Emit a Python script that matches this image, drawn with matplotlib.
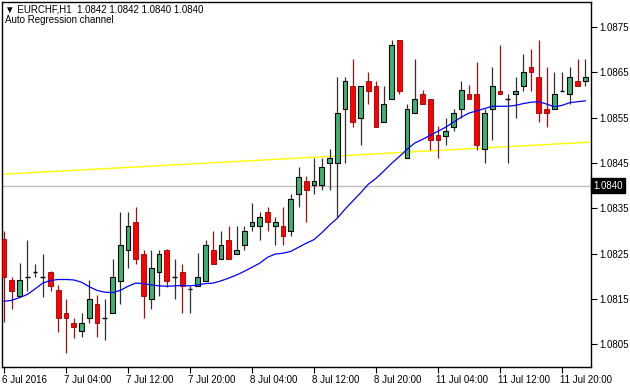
import matplotlib
matplotlib.use('Agg')
import matplotlib.pyplot as plt
import matplotlib.transforms as mtransforms
import numpy as np

# EURCHF H1 candles, 6 Jul 20:00 .. 11 Jul 23:00
opens = [1.08282, 1.08191, 1.08157, 1.08199, 1.08210, 1.08199, 1.08210, 1.08169, 1.08120, 1.08098,
         1.08079, 1.08109, 1.08138, 1.08109, 1.08119, 1.08190, 1.08258, 1.08319, 1.08250, 1.08149,
         1.08210, 1.08258, 1.08199, 1.08210, 1.08171, 1.08178, 1.08190, 1.08259, 1.08239, 1.08281,
         1.08250, 1.08270, 1.08310, 1.08310, 1.08341, 1.08310, 1.08310, 1.08299, 1.08381, 1.08410,
         1.08401, 1.08401, 1.08449, 1.08449, 1.08570, 1.08620, 1.08549, 1.08631, 1.08620, 1.08541,
         1.08590, 1.08721, 1.08460, 1.08560, 1.08601, 1.08590, 1.08511, 1.08510, 1.08530, 1.08570,
         1.08601, 1.08601, 1.08480, 1.08570, 1.08609, 1.08590, 1.08601, 1.08620, 1.08661, 1.08640,
         1.08570, 1.08570, 1.08609, 1.08601, 1.08631, 1.08631]
highs = [1.08299, 1.08199, 1.08229, 1.08281, 1.08228, 1.08250, 1.08212, 1.08180, 1.08151, 1.08107,
         1.08120, 1.08191, 1.08158, 1.08151, 1.08239, 1.08341, 1.08341, 1.08352, 1.08259, 1.08259,
         1.08259, 1.08261, 1.08239, 1.08228, 1.08178, 1.08252, 1.08281, 1.08299, 1.08299, 1.08310,
         1.08310, 1.08310, 1.08361, 1.08341, 1.08352, 1.08330, 1.08352, 1.08381, 1.08441, 1.08421,
         1.08461, 1.08461, 1.08480, 1.08640, 1.08640, 1.08680, 1.08620, 1.08651, 1.08631, 1.08620,
         1.08721, 1.08721, 1.08580, 1.08680, 1.08610, 1.08590, 1.08531, 1.08550, 1.08570, 1.08631,
         1.08622, 1.08672, 1.08570, 1.08661, 1.08710, 1.08601, 1.08640, 1.08691, 1.08702, 1.08721,
         1.08661, 1.08650, 1.08650, 1.08661, 1.08680, 1.08680]
lows = [1.08099, 1.08127, 1.08156, 1.08168, 1.08199, 1.08155, 1.08168, 1.08077, 1.08030, 1.08063,
        1.08066, 1.08097, 1.08066, 1.08059, 1.08119, 1.08138, 1.08219, 1.08228, 1.08109, 1.08127,
        1.08157, 1.08177, 1.08149, 1.08118, 1.08119, 1.08178, 1.08190, 1.08228, 1.08239, 1.08239,
        1.08250, 1.08259, 1.08299, 1.08280, 1.08299, 1.08270, 1.08270, 1.08288, 1.08352, 1.08319,
        1.08381, 1.08390, 1.08390, 1.08330, 1.08449, 1.08530, 1.08489, 1.08580, 1.08530, 1.08541,
        1.08590, 1.08603, 1.08460, 1.08560, 1.08580, 1.08478, 1.08460, 1.08489, 1.08520, 1.08550,
        1.08590, 1.08478, 1.08449, 1.08500, 1.08601, 1.08449, 1.08550, 1.08609, 1.08609, 1.08541,
        1.08530, 1.08570, 1.08609, 1.08580, 1.08620, 1.08620]
closes = [1.08198, 1.08168, 1.08191, 1.08199, 1.08210, 1.08199, 1.08179, 1.08109, 1.08109, 1.08088,
          1.08098, 1.08149, 1.08098, 1.08109, 1.08199, 1.08269, 1.08310, 1.08238, 1.08157, 1.08219,
          1.08250, 1.08190, 1.08199, 1.08179, 1.08171, 1.08199, 1.08270, 1.08228, 1.08270, 1.08239,
          1.08259, 1.08299, 1.08319, 1.08330, 1.08319, 1.08319, 1.08288, 1.08370, 1.08419, 1.08390,
          1.08410, 1.08441, 1.08461, 1.08560, 1.08631, 1.08541, 1.08620, 1.08609, 1.08530, 1.08580,
          1.08710, 1.08609, 1.08570, 1.08590, 1.08580, 1.08500, 1.08500, 1.08520, 1.08560, 1.08610,
          1.08590, 1.08489, 1.08560, 1.08620, 1.08601, 1.08590, 1.08609, 1.08650, 1.08650, 1.08560,
          1.08560, 1.08601, 1.08609, 1.08640, 1.08620, 1.08640]
# moving average (blue)
ma = [1.08145, 1.08147, 1.08153, 1.08160, 1.08172, 1.08185, 1.08191, 1.08193, 1.08193, 1.08192,
      1.08187, 1.08177, 1.08169, 1.08165, 1.08164, 1.08169, 1.08178, 1.08185, 1.08184, 1.08181,
      1.08179, 1.08178, 1.08179, 1.08180, 1.08179, 1.08181, 1.08184, 1.08185, 1.08190, 1.08196,
      1.08203, 1.08211, 1.08220, 1.08229, 1.08242, 1.08249, 1.08251, 1.08255, 1.08264, 1.08273,
      1.08281, 1.08296, 1.08313, 1.08328, 1.08348, 1.08366, 1.08384, 1.08403, 1.08416, 1.08432,
      1.08449, 1.08464, 1.08480, 1.08494, 1.08502, 1.08511, 1.08520, 1.08529, 1.08540, 1.08551,
      1.08560, 1.08565, 1.08570, 1.08575, 1.08575, 1.08575, 1.08577, 1.08581, 1.08584, 1.08585,
      1.08580, 1.08574, 1.08577, 1.08583, 1.08585, 1.08587]
# regression channel middle line (yellow), value at left / right edge
chan_left, chan_right = 1.08425, 1.08496
bid = 1.0840

tick_bars = [0, 8, 16, 24, 32, 40, 48, 56, 64, 72]
tick_labels = ['6 Jul 2016', '7 Jul 04:00', '7 Jul 12:00', '7 Jul 20:00', '8 Jul 04:00',
               '8 Jul 12:00', '8 Jul 20:00', '11 Jul 04:00', '11 Jul 12:00', '11 Jul 20:00']
price_ticks = [1.0805, 1.0815, 1.0825, 1.0835, 1.0845, 1.0855, 1.0865, 1.0875]

plt.rcParams['font.family'] = ['Liberation Sans', 'DejaVu Sans']

fig = plt.figure(figsize=(6.3, 3.88), dpi=100)
ax = fig.add_axes([2 / 630, 21 / 388, 589 / 630, 365 / 388])

x = np.arange(len(opens))
o = np.array(opens)
c = np.array(closes)
h = np.array(highs)
l = np.array(lows)

up = c > o
down = c < o
flat = c == o

# wicks
ax.vlines(x[up | flat], l[up | flat], h[up | flat], color='#303030', lw=0.9, zorder=2)
ax.vlines(x[down], l[down], h[down], color='#a01010', lw=0.9, zorder=2)

w = 0.64
ax.bar(x[up], (c - o)[up], bottom=o[up], width=w, color='#3cb371',
       edgecolor='black', linewidth=0.8, zorder=3)
ax.bar(x[down], (o - c)[down], bottom=c[down], width=w, color='#ff0000',
       edgecolor='#9a0000', linewidth=0.6, zorder=3)
ax.hlines(o[flat], x[flat] - w / 2, x[flat] + w / 2, color='black', lw=1.0, zorder=3)

x0, x1 = -0.26, 75.74
ax.plot(x, ma, color='#0000ff', lw=0.9, zorder=4)
ax.plot([x0, x1], [chan_left, chan_right], color='#ffff00', lw=1.0, zorder=1)
ax.axhline(bid, color='#c0c0c0', lw=1.0, zorder=0)

ax.set_xlim(x0, x1)
ax.set_ylim(1.08000, 1.08805)

ax.yaxis.tick_right()
ax.set_yticks(price_ticks)
ax.set_yticklabels(['%.4f' % p for p in price_ticks], fontsize=7)
ax.set_xticks(tick_bars)
ax.set_xticklabels(tick_labels, fontsize=7, ha='left')
ax.tick_params(axis='both', direction='out', length=4, width=0.8, colors='black', pad=2)
for sp in ax.spines.values():
    sp.set_color('black')
    sp.set_linewidth(1.0)

# x labels start just left of their tick, like the terminal
offset = mtransforms.ScaledTranslation(-2 / 100, 0, fig.dpi_scale_trans)
for lab in ax.get_xticklabels():
    lab.set_transform(lab.get_transform() + offset)

# bid price label
ax.text(1.004, bid, '%.4f' % bid, transform=ax.get_yaxis_transform(), fontsize=7,
        color='white', va='center', ha='left',
        bbox=dict(boxstyle='square,pad=0.25', fc='black', ec='black'))

fig.text(5 / 630, 1 - 9 / 388, '\u25bc EURCHF,H1  1.0842 1.0842 1.0840 1.0840',
         fontsize=7, va='center', ha='left')
fig.text(5 / 630, 1 - 20 / 388, 'Auto Regression channel', fontsize=7, va='center', ha='left')

fig.savefig('out.png', dpi=100, facecolor='white')
